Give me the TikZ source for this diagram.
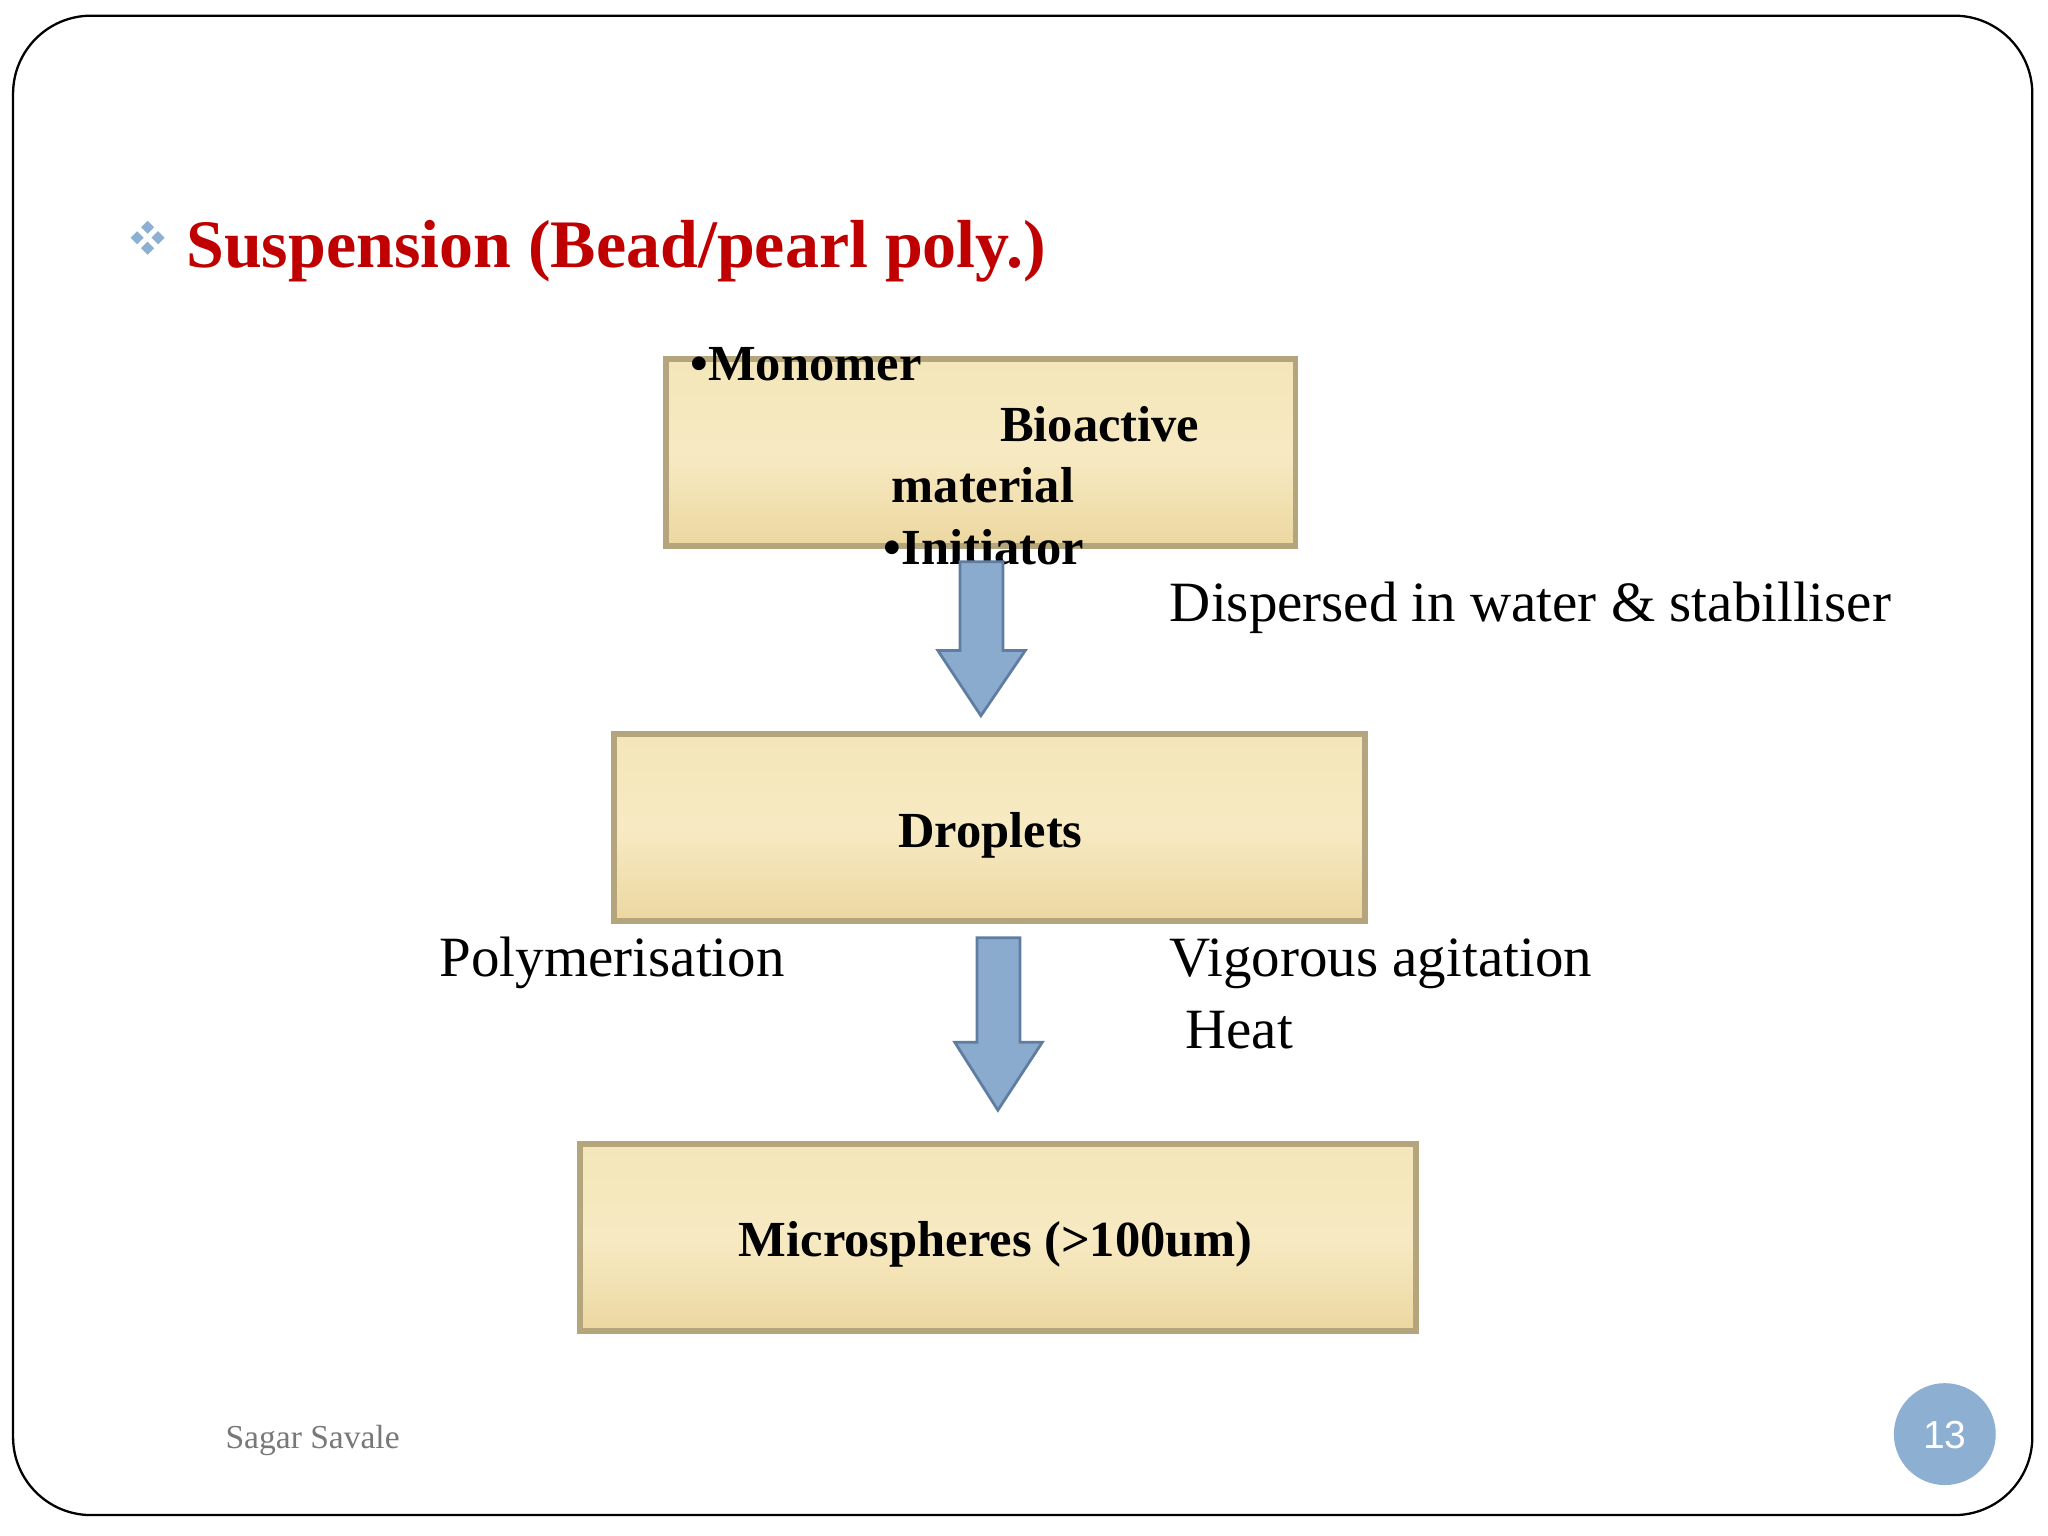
\documentclass[tikz,border=0pt]{standalone}
\usepackage{fontspec}
\setmainfont{Liberation Serif}
\newfontfamily\numfont{Liberation Sans}
\definecolor{bluel}{RGB}{140,175,210}
\definecolor{arrf}{RGB}{139,171,206}
\definecolor{arrd}{RGB}{95,125,160}
\definecolor{boxd}{RGB}{180,165,125}
\definecolor{boxt}{RGB}{243,230,185}
\definecolor{boxb}{RGB}{236,215,160}
\definecolor{boxm}{RGB}{247,234,195}
\definecolor{titred}{RGB}{192,0,0}
\definecolor{authg}{RGB}{120,120,120}
\begin{document}
\begin{tikzpicture}[x=0.01cm,y=-0.01cm,
  pbox/.style={draw=boxd,line width=1.2pt,top color=boxt,bottom color=boxb,middle color=boxm},
  barrow/.style={fill=arrf,draw=arrd,line width=0.6pt},
  boxtxt/.style={font=\fontsize{11}{13}\selectfont\bfseries,anchor=base west,inner sep=0pt},
  lbl/.style={font=\fontsize{12.4}{14}\selectfont,anchor=base west,inner sep=0pt}]
\useasboundingbox (0,0) rectangle (1568,1176);
\fill[white] (0,0) rectangle (1568,1176);
\draw[line width=0.5pt,rounded corners=17pt] (10,12) rectangle (1556,1160);
\foreach \dx/\dy in {0/-8,-8/0,8/0,0/8}
  \fill[bluel] (113+\dx,182+\dy) +(0,-5) -- +(5,0) -- +(0,5) -- +(-5,0) -- cycle;
\node[font=\fontsize{14.8}{17}\selectfont\bfseries,text=titred,anchor=base west,inner sep=0pt] (title) at (142,205) {Suspension (Bead/pearl poly.)};
\draw[pbox] (510,275) rectangle (992,418);
\node[boxtxt] (m1) at (528,291) {•Monomer};
\node[boxtxt] (m2) at (765,338) {Bioactive};
\node[boxtxt] (m3) at (682,385) {material};
\node[boxtxt] (m4) at (676,432) {•Initiator};
\draw[pbox] (470,562) rectangle (1045,705);
\node[boxtxt] (d) at (687,649) {Droplets};
\draw[pbox] (444,876) rectangle (1084,1019);
\node[boxtxt] (ms) at (565,962) {Microspheres (>100um)};
\draw[barrow] (735,430) -- (768,430) -- (768,498) -- (785,498) -- (751,548) -- (718,498) -- (735,498) -- cycle;
\draw[barrow] (748,718) -- (781,718) -- (781,798) -- (798,798) -- (764,850) -- (731,798) -- (748,798) -- cycle;
\node[lbl] (l1) at (895,476) {Dispersed in water \& stabilliser};
\node[lbl] (l2) at (336,748) {Polymerisation};
\node[lbl] (l3) at (895,748) {Vigorous agitation};
\node[lbl] (l4) at (907,803) {Heat};
\node[font=\fontsize{7.3}{9}\selectfont,text=authg,anchor=base west,inner sep=0pt] (auth) at (172,1109) {Sagar Savale};
\fill[bluel] (1489,1098) circle (39);
\node[font=\numfont\fontsize{8.5}{10}\selectfont,text=white] (num) at (1489,1099) {13};
\end{tikzpicture}
\end{document}
